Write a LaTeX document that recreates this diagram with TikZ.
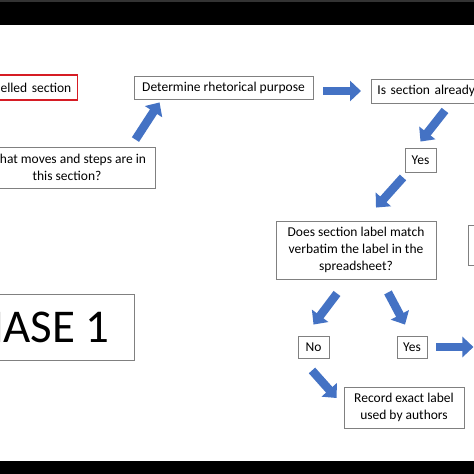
\documentclass[tikz,border=0pt]{standalone}
\usepackage{fontspec}
\setmainfont{Carlito}
\usetikzlibrary{arrows.meta}
\usetikzlibrary{calc}

\definecolor{boxgray}{RGB}{128,128,128}
\definecolor{boxred}{RGB}{214,28,36}
\definecolor{arrowblue}{RGB}{68,114,196}

\begin{document}
\begin{tikzpicture}[x=1pt, y=-1pt,
    box/.style={draw=boxgray, line width=0.9pt, fill=white, inner sep=0pt, font=\fontsize{13.5}{17}\selectfont, align=center},
    bigarrow/.style={arrowblue, line width=8.5pt, -{Triangle[width=20pt, length=11pt]}}]
      \useasboundingbox (0,0) rectangle (474,474);
      \clip (0,0) rectangle (474,474);
      \fill[white] (0,0) rectangle (474,474);
      \fill[black!80] (0,0) rectangle (474,2);
      \fill[black] (0,2) rectangle (474,25);
      \fill[black] (0,461) rectangle (474,474);

      \node[box, draw=boxred, line width=1.5pt, anchor=east, minimum height=25pt, text width=78pt, align=right, inner xsep=6pt] (lab) at (78,87.5) {elled section};
      \node[box, minimum width=179pt, minimum height=23pt] (det) at (223.5,87.5) {Determine rhetorical purpose};
      \node[box, anchor=west, minimum height=24pt, text width=110pt, align=left, inner xsep=6pt] (isec) at (371,91) {Is section already};
      \node[box, minimum width=176pt, minimum height=41pt] (what) at (67,167.5) {What moves and steps are in\\this section?};
      \node[box, minimum width=31pt, minimum height=24pt] (yes1) at (420.5,160) {Yes};
      \node[box, minimum width=160pt, minimum height=58pt] (does) at (356,250) {Does section label match\\verbatim the label in the\\spreadsheet?};
      \node[box, anchor=west, minimum width=40pt, minimum height=40pt] (next) at (468,245) {};
      \node[box, minimum width=31pt, minimum height=22pt] (no) at (313.5,347) {No};
      \node[box, minimum width=30pt, minimum height=22pt] (yes2) at (412,347) {Yes};
      \node[box, minimum width=120pt, minimum height=41pt] (rec) at (404,407.5) {Record exact label\\used by authors};
      \node[box, anchor=east, minimum height=66pt, inner xsep=25pt, font=\fontsize{47}{50}\selectfont] (phase) at (135,327) {PHASE 1};
      \coordinate (beyond) at ([shift={(46,0)}]yes2.east);

      \draw[bigarrow] ([shift={(-20,-7)}]what.north east) -- ([shift={(26,3)}]det.south west);
      \draw[bigarrow] ([shift={(10,3.5)}]det.east) -- ([shift={(-10,0)}]isec.west);
      \draw[bigarrow] ([shift={(74,7)}]isec.south west) -- ([shift={(0,-6)}]yes1.north);
      \draw[bigarrow] ([shift={(-17.5,5)}]yes1.south) -- ([shift={(20,-13)}]does.north);
      \draw[bigarrow] ([shift={(-19,14)}]does.south) -- ([shift={(0,-11)}]no.north);
      \draw[bigarrow] ([shift={(32,13)}]does.south) -- ([shift={(-7,-11)}]yes2.north);
      \draw[bigarrow] ([shift={(9,0)}]yes2.east) -- (beyond);
      \draw[bigarrow] ([shift={(-1.5,12)}]no.south) -- ([shift={(-7,-9.5)}]rec.west);
    \end{tikzpicture}
\end{document}
